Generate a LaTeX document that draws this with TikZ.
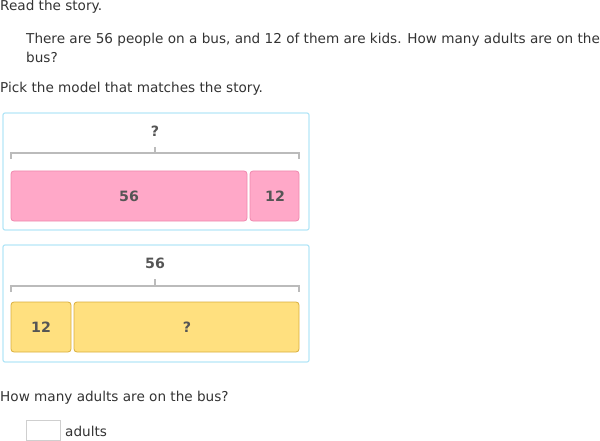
\documentclass[tikz,border=0pt]{standalone}
\usepackage{fontspec}
\setmainfont{DejaVu Sans}
\definecolor{txt}{HTML}{333333}
\definecolor{lbl}{HTML}{555555}
\definecolor{cyanb}{HTML}{B5E6F7}
\definecolor{pinkf}{HTML}{FFA8C8}
\definecolor{pinkb}{HTML}{F088AE}
\definecolor{yelf}{HTML}{FFE07F}
\definecolor{yelb}{HTML}{D9AE3C}
\definecolor{brk}{HTML}{BBBBBB}
\begin{document}
\begin{tikzpicture}[x=1pt,y=-1pt,
  body/.style={anchor=west,inner sep=0pt,text=txt,font=\fontsize{13.6}{16}\selectfont},
  panel/.style={draw=cyanb,line width=1.2pt,rounded corners=2pt},
  pinkbar/.style={draw=pinkb,fill=pinkf,rounded corners=3pt,line width=0.8pt},
  yelbar/.style={draw=yelb,fill=yelf,rounded corners=3pt,line width=0.8pt},
  bl/.style={inner sep=0pt,text=lbl,font=\bfseries\fontsize{14.2}{16}\selectfont},
  brack/.style={draw=brk,line width=1.1pt}]
\useasboundingbox (0,0) rectangle (600,441);
\node[body] (t1) at (0,7) {Read the story.};
\node[body] (t2) at (26,40) {There are 56 people on a bus, and 12 of them are kids. How many adults are on the};
\node[body] (t3) at (26,57) {bus?};
\node[body] (t4) at (0,89) {Pick the model that matches the story.};
% panel 1
\draw[panel] (3,113) rectangle (309,230);
\node[bl] (q1) at (155,131) {?};
\draw[brack] (11,159) -- (11,153) -- (299,153) -- (299,159);
\draw[brack] (155,147) -- (155,153);
\draw[pinkbar] (11,171) rectangle (247,221);
\draw[pinkbar] (250,171) rectangle (299,221);
\node[bl] (a56) at (129,196) {56};
\node[bl] (a12) at (275,196) {12};
% panel 2
\draw[panel] (3,245) rectangle (309,362);
\node[bl] (n56) at (155,263) {56};
\draw[brack] (11,292) -- (11,286) -- (299,286) -- (299,292);
\draw[brack] (155,279) -- (155,286);
\draw[yelbar] (11,302) rectangle (71,352);
\draw[yelbar] (74,302) rectangle (299,352);
\node[bl] (b12) at (41,327) {12};
\node[bl] (bq) at (187,327) {?};
\node[body] (t5) at (0,398) {How many adults are on the bus?};
\draw[draw=brk!70,line width=0.8pt] (26,420) rectangle (60,440);
\node[body] (t6) at (65,431) {adults};
\end{tikzpicture}
\end{document}
